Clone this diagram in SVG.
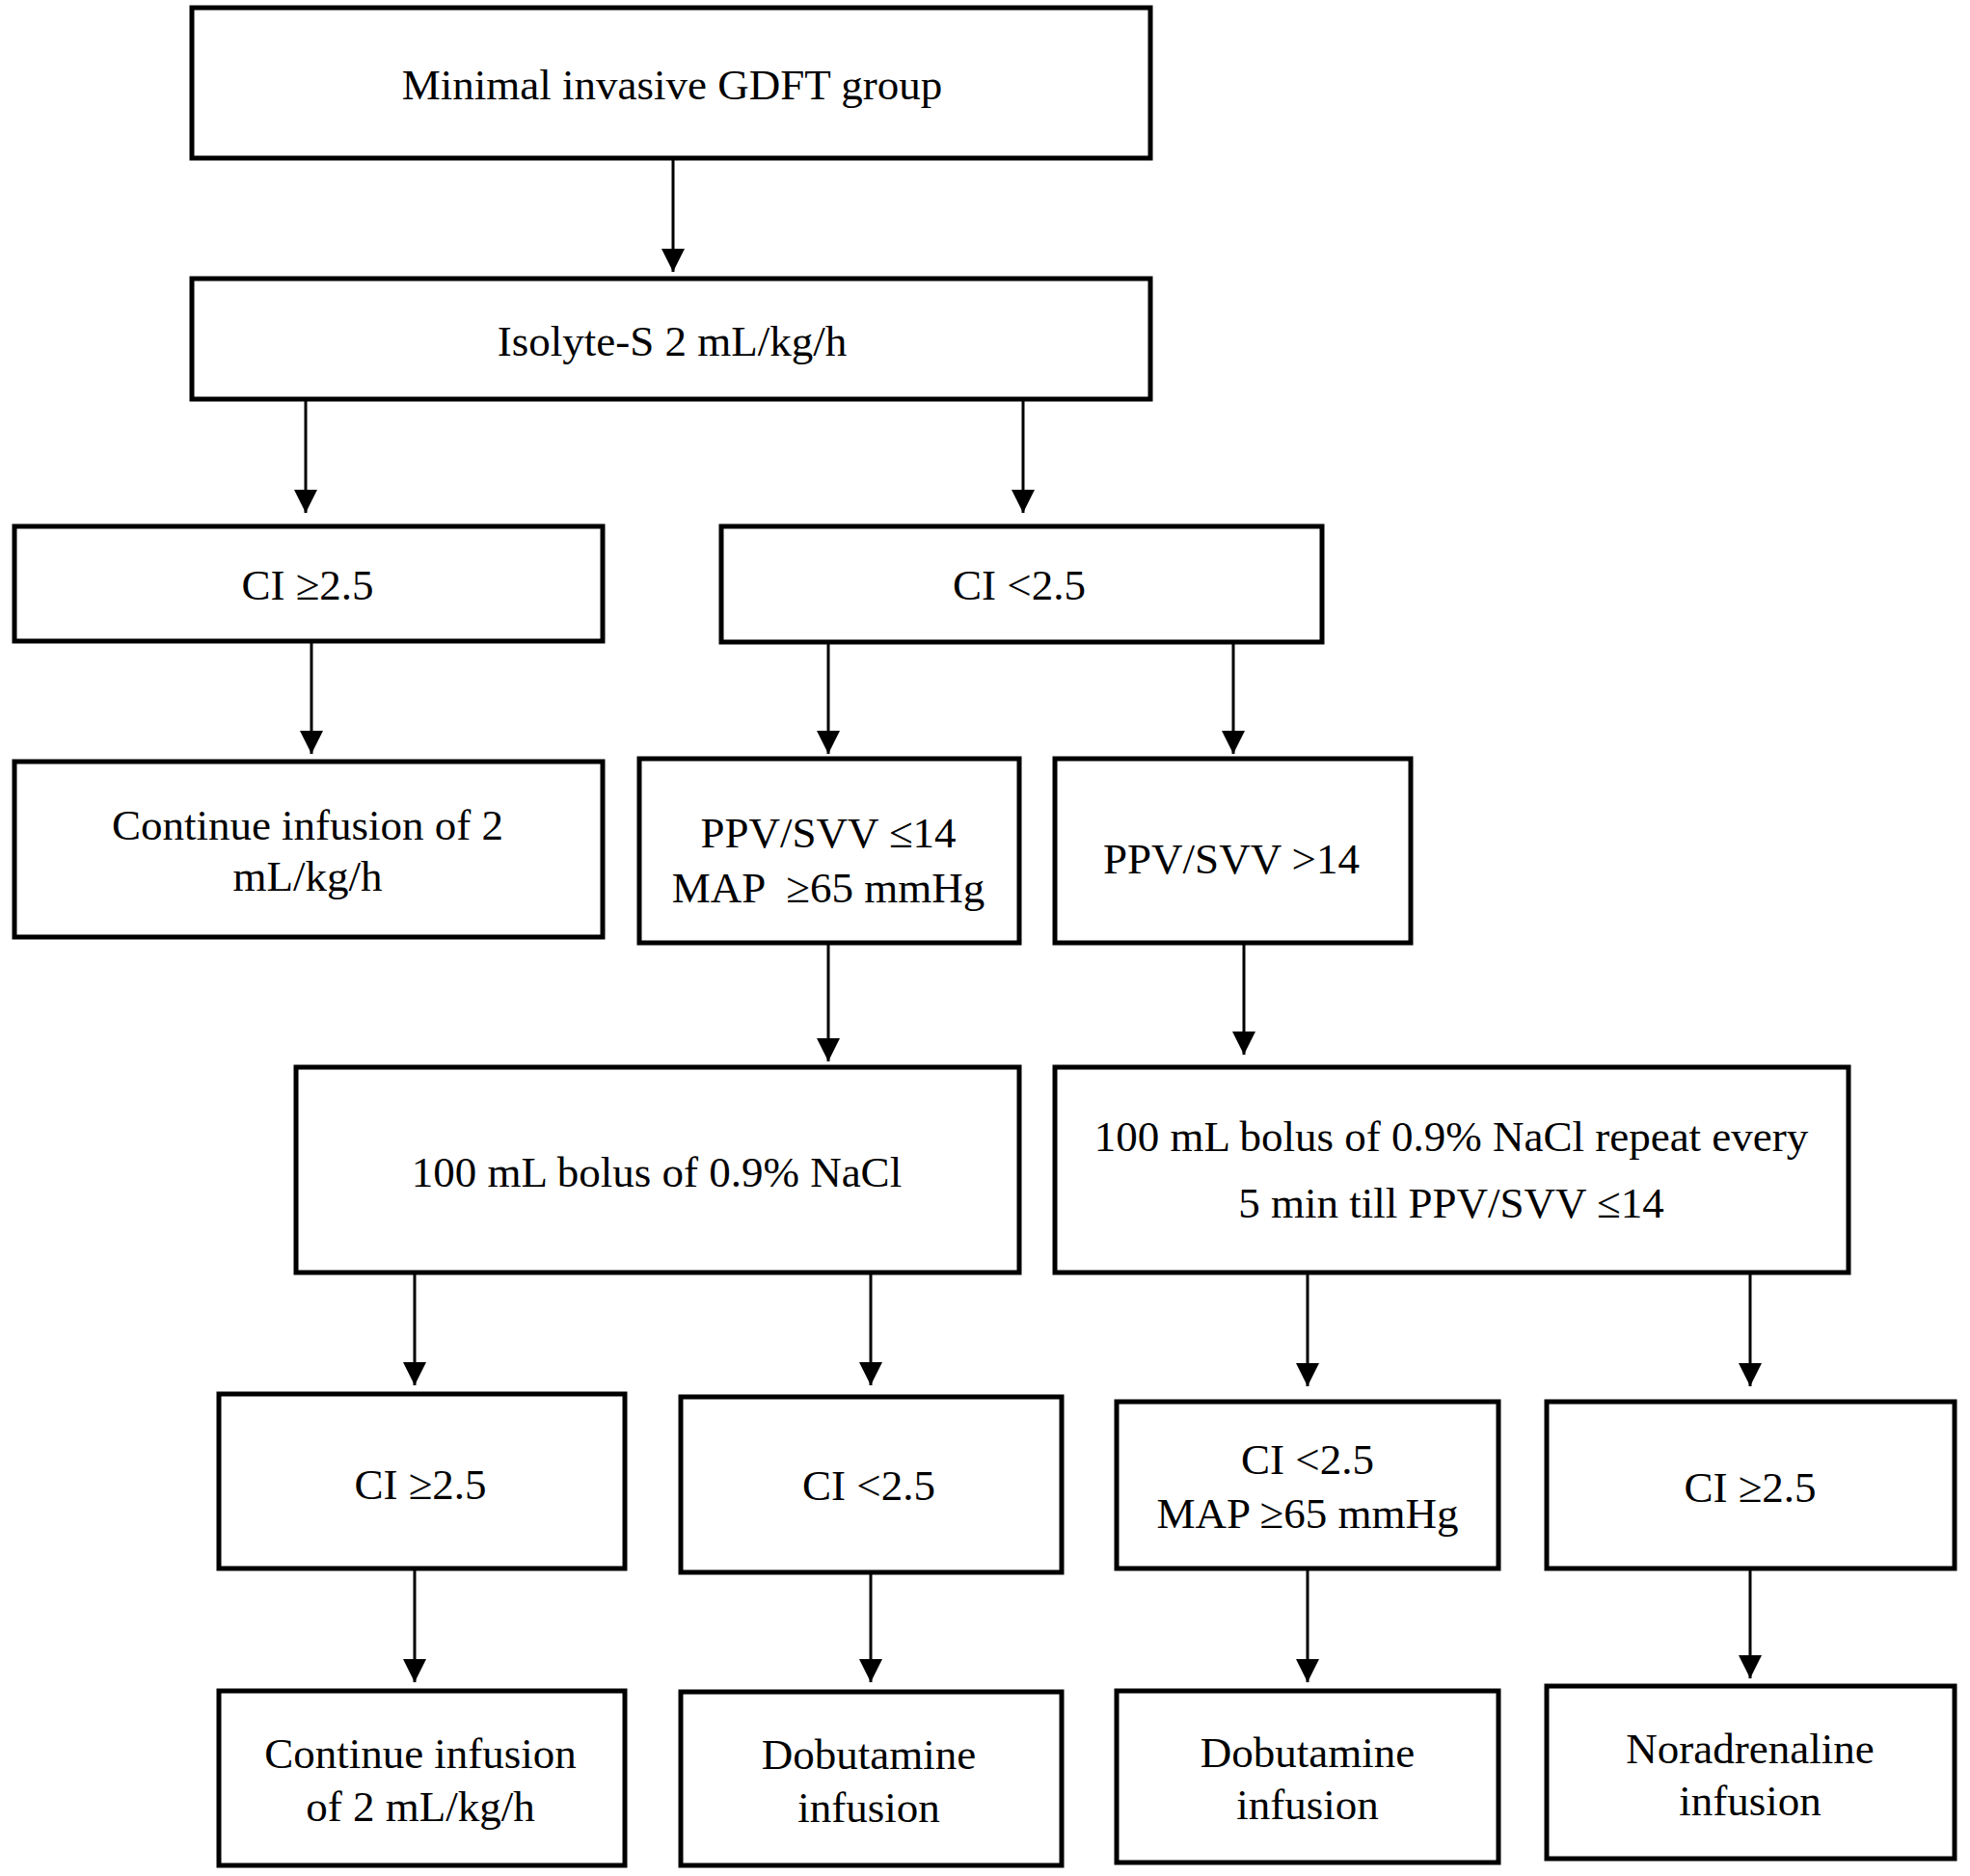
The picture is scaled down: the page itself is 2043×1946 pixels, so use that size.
<svg xmlns="http://www.w3.org/2000/svg" width="2043" height="1946" viewBox="0 0 2043 1946">
<style>
.box{fill:#fff;stroke:#000;stroke-width:5}
.t{font-family:"Liberation Serif","Times New Roman",serif;font-size:45px;fill:#000;text-anchor:middle}
.conn line{stroke:#000;stroke-width:3;marker-end:url(#ah)}
</style>
<defs>
<marker id="ah" viewBox="0 0 24 24" refX="24" refY="12" markerWidth="24" markerHeight="24" markerUnits="userSpaceOnUse" orient="auto">
<path d="M0,0 L24,12 L0,24 z" fill="#000"/>
</marker>
</defs>
<rect width="2043" height="1946" fill="#fff"/>
<g class="conn">
<line x1="698" y1="164" x2="698" y2="282"/>
<line x1="317" y1="414" x2="317" y2="532"/>
<line x1="1061" y1="414" x2="1061" y2="532"/>
<line x1="323" y1="665" x2="323" y2="782"/>
<line x1="859" y1="666" x2="859" y2="782"/>
<line x1="1279" y1="666" x2="1279" y2="782"/>
<line x1="859" y1="978" x2="859" y2="1101"/>
<line x1="1290" y1="978" x2="1290" y2="1094"/>
<line x1="430" y1="1320" x2="430" y2="1437"/>
<line x1="903" y1="1320" x2="903" y2="1437"/>
<line x1="1356" y1="1320" x2="1356" y2="1438"/>
<line x1="1815" y1="1320" x2="1815" y2="1438"/>
<line x1="430" y1="1627" x2="430" y2="1745"/>
<line x1="903" y1="1631" x2="903" y2="1745"/>
<line x1="1356" y1="1627" x2="1356" y2="1745"/>
<line x1="1815" y1="1627" x2="1815" y2="1741"/>
</g>
<g id="n1"><rect class="box" x="199" y="8" width="994" height="156"/><text class="t" x="697" y="103">Minimal invasive GDFT group</text></g>
<g id="n2"><rect class="box" x="199" y="289" width="994" height="125"/><text class="t" x="697" y="369">Isolyte-S 2 mL/kg/h</text></g>
<g id="n3"><rect class="box" x="15" y="546" width="610" height="119"/><text class="t" x="319" y="622">CI ≥2.5</text></g>
<g id="n4"><rect class="box" x="748" y="546" width="623" height="120"/><text class="t" x="1057" y="622">CI &lt;2.5</text></g>
<g id="n5"><rect class="box" x="15" y="790" width="610" height="182"/><text class="t" x="319" y="871">Continue infusion of 2</text><text class="t" x="319" y="924">mL/kg/h</text></g>
<g id="n6"><rect class="box" x="663" y="787" width="394" height="191"/><text class="t" x="859" y="879">PPV/SVV ≤14</text><text class="t" x="859" y="936" xml:space="preserve">MAP  ≥65 mmHg</text></g>
<g id="n7"><rect class="box" x="1094" y="787" width="369" height="191"/><text class="t" x="1277" y="906">PPV/SVV &gt;14</text></g>
<g id="n8"><rect class="box" x="307" y="1107" width="750" height="213"/><text class="t" x="681" y="1231">100 mL bolus of 0.9% NaCl</text></g>
<g id="n9"><rect class="box" x="1094" y="1107" width="823" height="213"/><text class="t" x="1505" y="1194">100 mL bolus of 0.9% NaCl repeat every</text><text class="t" x="1505" y="1263">5 min till PPV/SVV ≤14</text></g>
<g id="n10"><rect class="box" x="227" y="1446" width="421" height="181"/><text class="t" x="436" y="1555">CI ≥2.5</text></g>
<g id="n11"><rect class="box" x="706" y="1449" width="395" height="182"/><text class="t" x="901" y="1556">CI &lt;2.5</text></g>
<g id="n12"><rect class="box" x="1158" y="1454" width="396" height="173"/><text class="t" x="1356" y="1529">CI &lt;2.5</text><text class="t" x="1356" y="1585">MAP ≥65 mmHg</text></g>
<g id="n13"><rect class="box" x="1604" y="1454" width="423" height="173"/><text class="t" x="1815" y="1558">CI ≥2.5</text></g>
<g id="n14"><rect class="box" x="227" y="1754" width="421" height="181"/><text class="t" x="436" y="1834">Continue infusion</text><text class="t" x="436" y="1889">of 2 mL/kg/h</text></g>
<g id="n15"><rect class="box" x="706" y="1755" width="395" height="180"/><text class="t" x="901" y="1835">Dobutamine</text><text class="t" x="901" y="1890">infusion</text></g>
<g id="n16"><rect class="box" x="1158" y="1754" width="396" height="178"/><text class="t" x="1356" y="1833">Dobutamine</text><text class="t" x="1356" y="1887">infusion</text></g>
<g id="n17"><rect class="box" x="1604" y="1749" width="423" height="179"/><text class="t" x="1815" y="1829">Noradrenaline</text><text class="t" x="1815" y="1883">infusion</text></g>
</svg>
